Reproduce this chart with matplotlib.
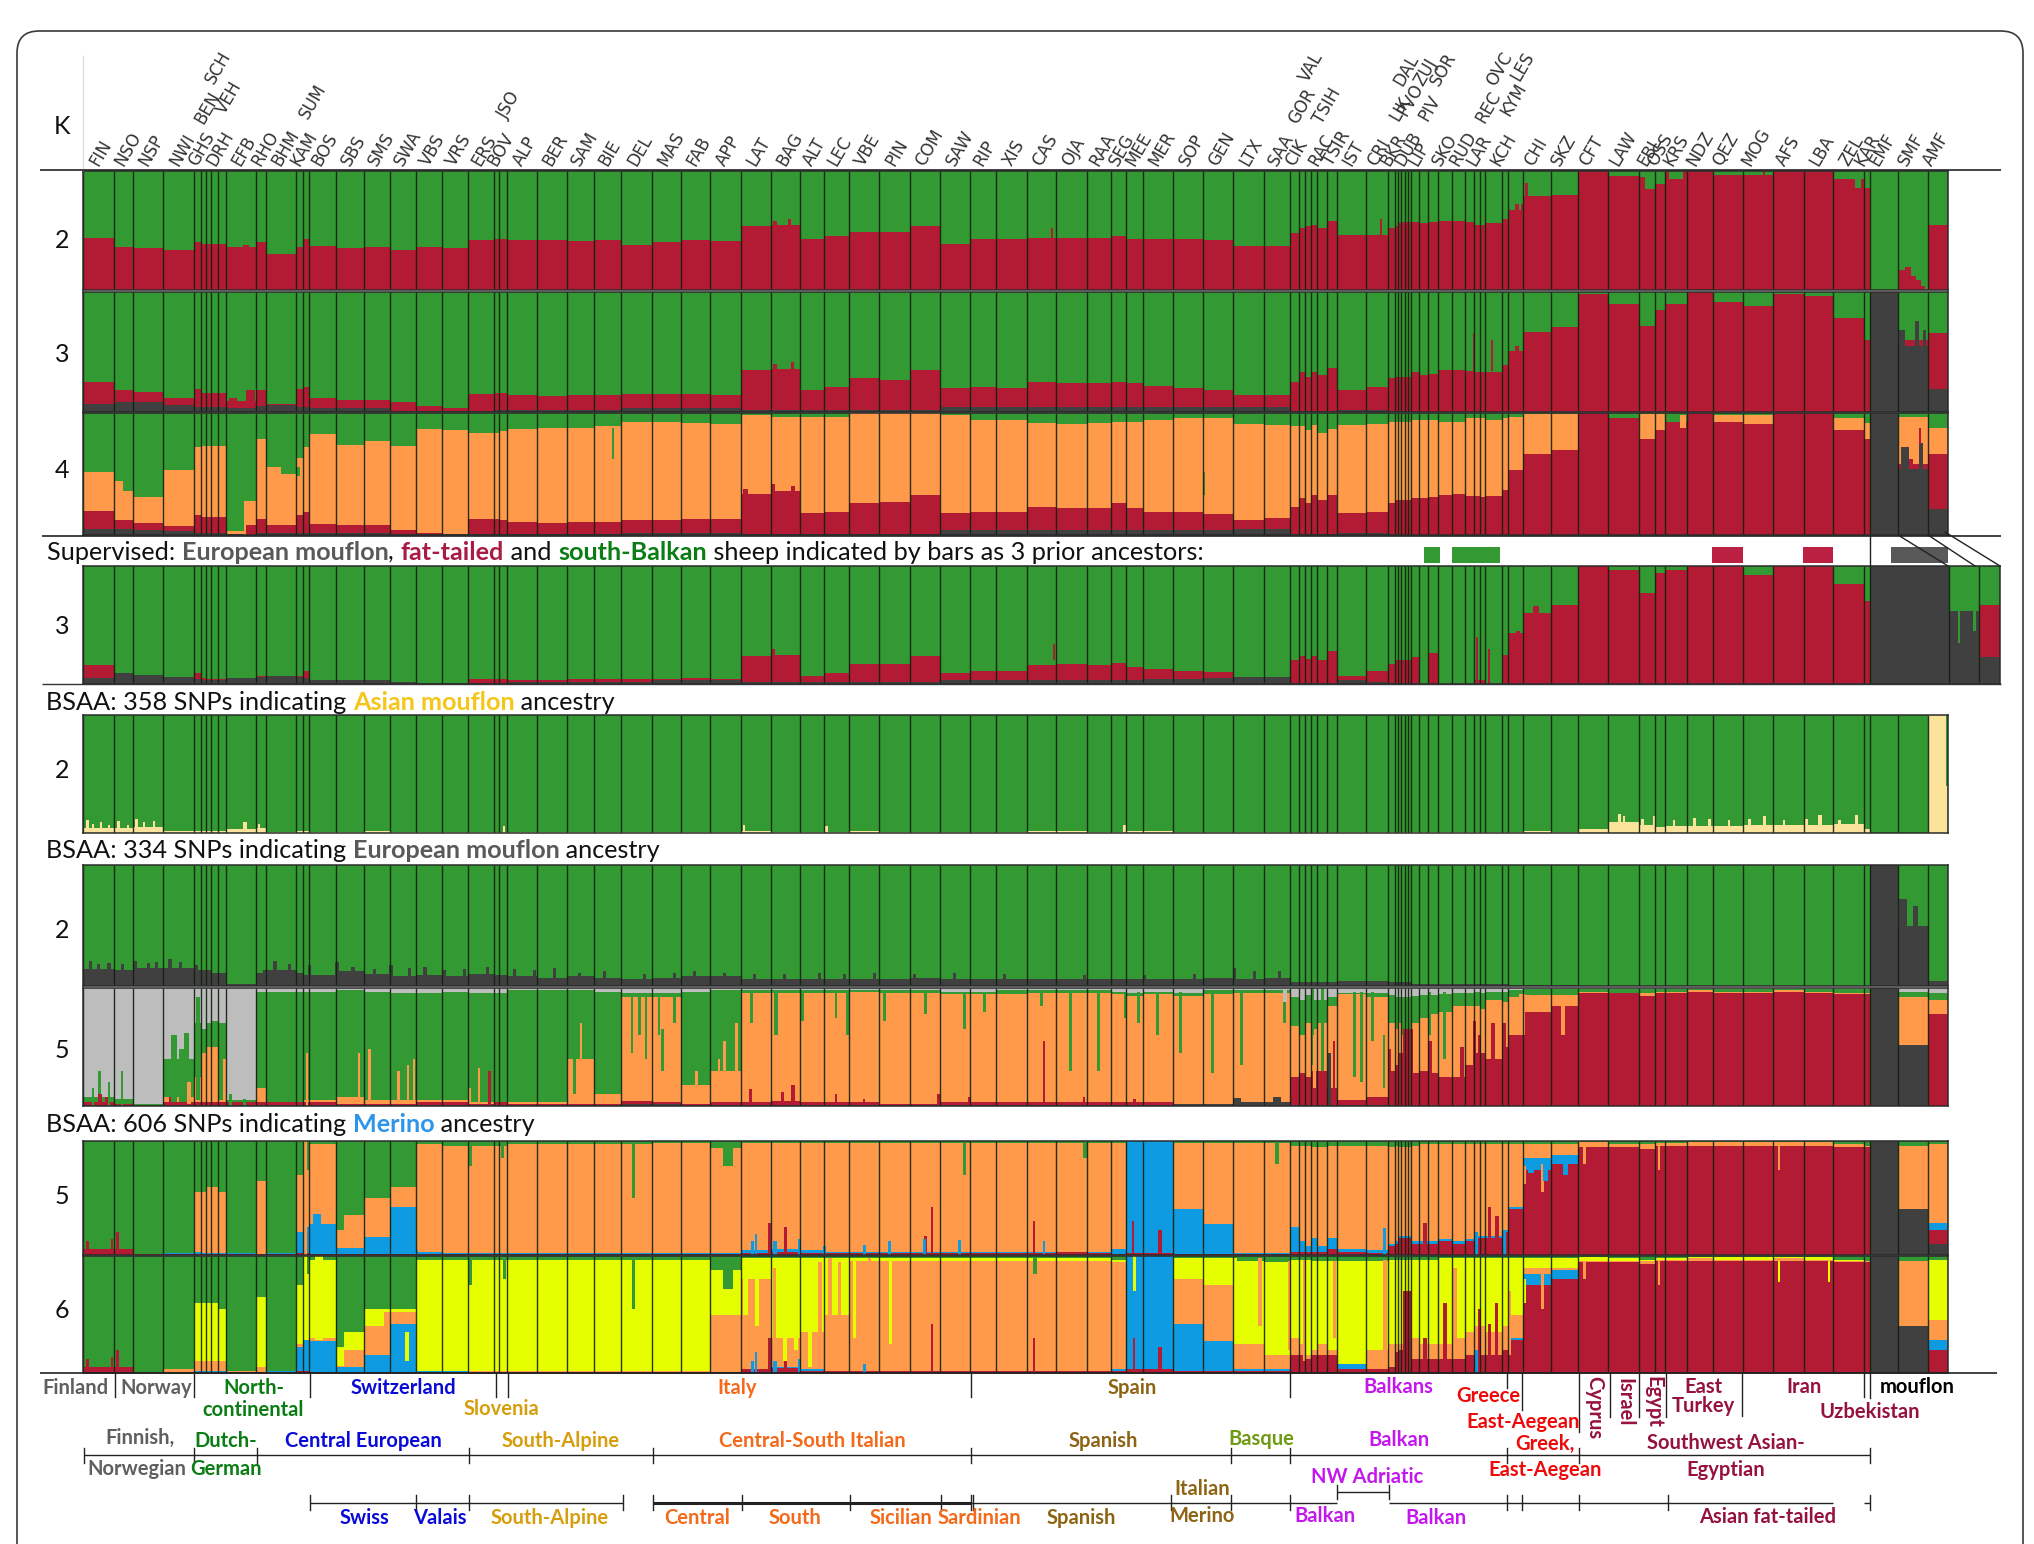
import numpy as np
import matplotlib
matplotlib.use("Agg")
import matplotlib.pyplot as plt
from matplotlib.patches import FancyBboxPatch, Rectangle

plt.rcParams["font.family"] = ["Lato", "DejaVu Sans"]

W, H = 2034, 1544

GREEN = "#339933"
RED = "#b31a34"
ORANGE = "#ff9a4a"
DARK = "#404040"
GREY = "#bdbdbd"
BLUE = "#0e9be2"
YELLOW = "#e6ff00"
PALE = "#fce39c"

breeds = ["FIN", "NSO", "NSP", "NWI", "GHS", "BEN", "DRH", "SCH", "VEH", "EFB",
          "RHO", "BHM", "KAM", "SUM", "BOS", "SBS", "SMS", "SWA", "VBS", "VRS",
          "ERS", "BOV", "JSO", "ALP", "BER", "SAM", "BIE", "DEL", "MAS", "FAB",
          "APP", "LAT", "BAG", "ALT", "LEC", "VBE", "PIN", "COM", "SAW", "RIP",
          "XIS", "CAS", "OJA", "RAA", "SEG", "MEE", "MER", "SOP", "GEN", "LTX",
          "SAA", "CIK", "GOR", "VAL", "RAC", "TSIH", "TSIR", "IST", "CRI", "LIK",
          "BKR", "DUB", "DAL", "PVO", "ZUJ", "LIP", "PIV", "SOR", "SKO", "RUD",
          "LAR", "REC", "OVC", "KCH", "KYM", "LES", "CHI", "SKZ", "CFT", "LAW",
          "EBL", "OSS", "KRS", "NDZ", "QEZ", "MOG", "AFS", "LBA", "ZEL", "KAR",
          "EMF", "SMF", "AMF"]

# individuals per breed
breed_widths = [31, 19, 30, 31, 7, 5, 5, 7, 8, 30,
                10, 30, 7, 6, 27, 28, 26, 26, 26, 26,
                26, 5, 8, 30, 30, 27, 27, 31, 29, 29,
                31, 30, 29, 24, 25, 30, 31, 30, 30, 26,
                31, 29, 31, 24, 15, 17, 30, 30, 30, 31,
                26, 9, 6, 6, 6, 10, 10, 29, 22, 7,
                3, 3, 4, 3, 3, 8, 9, 10, 14, 13,
                9, 6, 5, 17, 6, 15, 28, 27, 30, 31,
                16, 10, 22, 26, 30, 30, 31, 29, 31, 6,
                28, 30, 20]

# the supervised run lists the three mouflon groups at their own widths
sup_widths = breed_widths[:-3] + [79, 30, 21]

# K=2, top of the fat-tailed share
k2_red = [44, 36, 35, 34, 40, 39, 39, 39, 39, 36,
          40, 30, 36, 43, 37, 35, 36, 34, 36, 35,
          42, 43, 43, 42, 42, 41, 42, 38, 40, 42,
          41, 54, 55, 43, 45, 49, 49, 54, 39, 43,
          43, 44, 44, 44, 45, 43, 43, 43, 42, 37,
          37, 48, 52, 54, 55, 52, 58, 46, 46, 52,
          54, 56, 57, 57, 57, 57, 56, 57, 58, 58,
          57, 55, 55, 56, 60, 67, 79, 80, 100, 96,
          85, 89, 93, 100, 97, 97, 100, 100, 93, 86,
          0, 0, 55]
k2_streaks = [(1816, 6, 0, 17, RED), (1822, 6, 0, 19, RED), (1828, 5, 0, 12, RED),
              (1833, 5, 0, 8, RED), (1838, 4, 0, 3, RED),
              (1438, 4, 55, 72, RED), (1442, 3, 55, 90, RED), (968, 2, 40, 52, RED),
              (1297, 2, 45, 60, RED), (1680, 2, 90, 100, RED),
              (690, 4, 50, 58, RED), (705, 3, 50, 60, RED), (150, 6, 30, 34, RED),
              (160, 6, 30, 38, RED), (1425, 5, 60, 64, RED), (1432, 4, 60, 72, RED),
              (1440, 5, 67, 76, RED), (1556, 6, 85, 95, RED), (1582, 4, 89, 100, RED),
              (1600, 4, 93, 100, RED), (1772, 6, 93, 86, GREEN)]

# K=3
k3_dark = [7, 8, 8, 6, 4, 4, 4, 4, 4, 3,
           5, 6, 4, 4, 3, 3, 3, 1, 1, 1,
           1, 2, 2, 2, 2, 2, 2, 3, 3, 3,
           3, 2, 2, 2, 2, 2, 2, 2, 4, 4,
           4, 4, 4, 4, 4, 4, 4, 4, 4, 4,
           4, 1, 1, 1, 1, 1, 1, 2, 2, 1,
           1, 1, 1, 1, 1, 0, 0, 0, 0, 0,
           0, 0, 0, 0, 0, 0, 0, 0, 0, 0,
           0, 0, 0, 0, 0, 0, 0, 0, 0, 0,
           100, 55, 19]
k3_red = [25, 18, 17, 12, 19, 16, 16, 16, 16, 9,
          18, 7, 19, 21, 12, 10, 10, 8, 5, 3,
          15, 16, 16, 14, 13, 14, 14, 15, 15, 15,
          14, 35, 36, 18, 21, 28, 27, 35, 20, 21,
          20, 25, 24, 24, 25, 24, 22, 20, 18, 14,
          14, 25, 33, 29, 33, 31, 37, 18, 21, 28,
          29, 29, 29, 29, 29, 33, 31, 32, 35, 35,
          34, 33, 33, 33, 39, 51, 67, 71, 98, 90,
          72, 85, 90, 100, 92, 88, 98, 97, 78, 60,
          100, 60, 66]
k3_streaks = [(1390, 2, 34, 66, RED), (1408, 2, 34, 60, RED), (1840, 3, 55, 68, DARK),
              (1816, 6, 55, 68, DARK), (1832, 4, 55, 76, DARK), (1568, 2, 78, 92, GREEN),
              (690, 4, 35, 40, RED), (708, 3, 36, 42, RED), (146, 8, 8, 12, RED),
              (163, 9, 9, 18, RED), (1425, 6, 39, 46, RED), (1432, 4, 40, 55, RED)]

# K=4
k4_dark = [5, 5, 4, 3, 2, 2, 2, 2, 2, 1,
           2, 2, 2, 2, 2, 2, 2, 1, 1, 1,
           1, 1, 1, 1, 1, 1, 1, 2, 2, 2,
           2, 1, 1, 1, 1, 1, 1, 1, 4, 4,
           4, 4, 4, 4, 4, 4, 4, 4, 4, 5,
           5, 1, 1, 1, 1, 1, 1, 2, 2, 1,
           0, 0, 0, 0, 0, 0, 0, 0, 0, 0,
           0, 0, 0, 0, 0, 0, 0, 0, 0, 0,
           0, 0, 0, 0, 0, 0, 0, 0, 0, 0,
           100, 54, 21]
k4_red = [20, 12, 10, 7, 16, 15, 15, 15, 15, 1,
          13, 8, 16, 19, 9, 8, 8, 4, 2, 1,
          13, 13, 12, 11, 10, 11, 11, 12, 12, 13,
          13, 34, 36, 18, 19, 26, 27, 33, 18, 19,
          19, 23, 22, 22, 26, 22, 19, 19, 17, 12,
          14, 23, 30, 26, 33, 29, 33, 18, 19, 26,
          29, 29, 29, 29, 29, 30, 30, 31, 33, 34,
          32, 32, 31, 32, 37, 53, 66, 70, 100, 96,
          79, 86, 93, 100, 93, 91, 100, 100, 86, 79,
          100, 58, 66]
k4_orange = [52, 44, 31, 53, 72, 73, 73, 73, 73, 3,
             79, 56, 63, 72, 83, 74, 77, 73, 87, 86,
             84, 84, 85, 87, 88, 88, 89, 93, 93, 92,
             91, 98, 97, 97, 97, 100, 100, 100, 98, 94,
             94, 92, 91, 92, 93, 93, 94, 96, 96, 91,
             90, 89, 89, 86, 90, 84, 87, 90, 91, 93,
             93, 93, 93, 93, 93, 94, 94, 94, 93, 93,
             96, 96, 96, 94, 96, 97, 99, 99, 100, 96,
             99, 99, 93, 100, 98, 98, 100, 100, 96, 92,
             100, 97, 88]
k4_streaks = [(161, 12, 0, 28, ORANGE), (163, 10, 0, 8, RED), (120, 3, 40, 48, ORANGE),
              (1120, 2, 33, 52, GREEN), (529, 2, 62, 88, GREEN),
              (1818, 8, 54, 72, DARK), (1826, 4, 54, 62, RED), (1836, 4, 54, 75, DARK),
              (1836, 2, 75, 88, RED), (1597, 6, 88, 98, ORANGE),
              (660, 5, 34, 38, RED), (688, 4, 36, 42, RED), (708, 4, 36, 40, RED),
              (1425, 6, 37, 44, RED), (1432, 4, 40, 52, RED), (213, 4, 56, 48, GREEN),
              (198, 15, 56, 50, GREEN), (40, 10, 44, 36, GREEN)]

# supervised run, K=3
sup_dark = [5, 9, 8, 6, 4, 3, 3, 3, 3, 5,
            6, 7, 6, 5, 3, 3, 3, 2, 1, 1,
            1, 1, 1, 2, 2, 2, 2, 2, 3, 3,
            3, 2, 2, 2, 2, 2, 2, 2, 3, 3,
            3, 3, 3, 3, 3, 3, 4, 4, 5, 6,
            6, 1, 1, 1, 1, 1, 1, 3, 2, 1,
            1, 1, 1, 1, 1, 0, 0, 0, 0, 0,
            0, 0, 0, 0, 0, 0, 0, 0, 0, 0,
            0, 0, 0, 0, 0, 0, 0, 0, 0, 0,
            100, 62, 23]
sup_red = [16, 9, 8, 6, 9, 5, 4, 4, 4, 5,
           7, 7, 7, 11, 3, 3, 3, 2, 1, 1,
           4, 4, 4, 3, 3, 4, 4, 4, 4, 5,
           4, 24, 25, 7, 9, 17, 17, 24, 9, 11,
           11, 16, 17, 16, 18, 14, 13, 11, 10, 6,
           6, 20, 24, 21, 24, 20, 28, 7, 11, 17,
           20, 20, 20, 20, 20, 23, 0, 26, 0, 0,
           0, 3, 3, 0, 25, 43, 60, 67, 100, 97,
           77, 94, 97, 100, 100, 92, 100, 100, 85, 70,
           100, 62, 67]
sup_streaks = [(1875, 2, 35, 100, GREEN), (1890, 3, 45, 100, GREEN), (1393, 2, 0, 40, RED),
               (1405, 2, 0, 30, RED), (970, 2, 20, 34, RED), (1425, 6, 25, 32, RED),
               (1433, 4, 32, 45, RED), (1450, 6, 60, 66, RED), (688, 4, 24, 30, RED)]

# BSAA on the Asian mouflon SNPs, K=2
asian_pale = [4, 4, 5, 2, 2, 2, 2, 2, 2, 3,
              4, 1, 2, 2, 1, 1, 2, 1, 1, 1,
              1, 1, 1, 1, 1, 1, 1, 1, 1, 1,
              1, 2, 1, 1, 1, 2, 1, 1, 1, 1,
              1, 2, 2, 1, 1, 2, 2, 1, 1, 1,
              1, 1, 1, 1, 1, 1, 1, 1, 1, 1,
              1, 1, 1, 1, 1, 1, 1, 1, 1, 1,
              1, 1, 1, 1, 1, 1, 2, 1, 3, 9,
              7, 5, 6, 6, 6, 7, 7, 7, 8, 3,
              0, 0, 100]
asian_streaks = [(3, 3, 0, 11, PALE), (9, 2, 0, 8, PALE), (17, 2, 0, 9, PALE), (25, 2, 0, 7, PALE),
                 (34, 3, 0, 10, PALE), (44, 2, 0, 7, PALE), (52, 3, 0, 12, PALE), (60, 2, 0, 9, PALE),
                 (70, 2, 0, 10, PALE), (160, 4, 0, 9, PALE), (175, 2, 0, 8, PALE), (420, 2, 0, 6, PALE),
                 (660, 2, 0, 7, PALE), (742, 3, 0, 6, PALE), (1040, 3, 0, 7, PALE), (1535, 3, 0, 16, PALE),
                 (1570, 3, 0, 14, PALE), (1610, 3, 0, 13, PALE), (1680, 3, 0, 14, PALE), (1735, 4, 0, 15, PALE),
                 (1772, 3, 0, 15, PALE), (1540, 2, 0, 14, PALE), (1558, 3, 0, 12, PALE), (1590, 2, 0, 11, PALE),
                 (1625, 3, 0, 12, PALE), (1645, 2, 0, 11, PALE), (1665, 3, 0, 12, PALE), (1700, 2, 0, 11, PALE),
                 (1722, 3, 0, 12, PALE), (1755, 3, 0, 11, PALE), (1785, 0, 0, 0, PALE),
                 (1860, 5, 0, 0, PALE), (1863, 2, 40, 100, GREEN)]

# BSAA on the European mouflon SNPs, K=2
euro_dark = [14, 13, 15, 15, 13, 13, 13, 11, 11, 2,
             11, 13, 11, 9, 9, 12, 10, 8, 9, 8,
             10, 9, 9, 8, 7, 8, 7, 6, 7, 8,
             8, 6, 6, 6, 6, 6, 6, 7, 6, 6,
             6, 6, 6, 6, 6, 6, 6, 6, 7, 6,
             7, 3, 3, 3, 3, 3, 3, 4, 4, 3,
             3, 3, 3, 3, 3, 2, 2, 2, 2, 2,
             2, 2, 2, 2, 2, 1, 1, 1, 0, 0,
             0, 0, 0, 0, 0, 0, 0, 0, 0, 0,
             100, 50, 4]
euro_streaks = [(6, 3, 0, 21, DARK), (24, 4, 0, 19, DARK), (50, 4, 0, 21, DARK), (85, 4, 0, 22, DARK),
                (96, 3, 0, 20, DARK), (190, 4, 0, 21, DARK), (252, 4, 0, 20, DARK), (306, 4, 0, 17, DARK),
                (340, 4, 0, 16, DARK), (403, 3, 0, 16, DARK), (470, 3, 0, 15, DARK), (610, 3, 0, 12, DARK),
                (735, 3, 0, 11, DARK), (790, 3, 0, 11, DARK), (1150, 3, 0, 15, DARK),
                (14, 3, 0, 18, DARK), (38, 3, 0, 18, DARK), (64, 3, 0, 19, DARK), (72, 3, 0, 20, DARK),
                (112, 3, 0, 17, DARK), (180, 4, 0, 13, DARK), (205, 3, 0, 18, DARK), (225, 3, 0, 17, DARK),
                (268, 4, 0, 16, DARK), (290, 3, 0, 14, DARK), (325, 3, 0, 15, DARK), (360, 3, 0, 13, DARK),
                (380, 3, 0, 14, DARK), (430, 3, 0, 14, DARK), (450, 3, 0, 13, DARK), (495, 3, 0, 11, DARK),
                (520, 3, 0, 12, DARK), (560, 3, 0, 10, DARK), (590, 3, 0, 11, DARK), (640, 3, 0, 11, DARK),
                (670, 3, 0, 10, DARK), (700, 3, 0, 10, DARK), (760, 3, 0, 10, DARK), (830, 3, 0, 10, DARK),
                (870, 3, 0, 11, DARK), (920, 3, 0, 10, DARK), (1000, 3, 0, 9, DARK), (1060, 3, 0, 9, DARK),
                (1110, 3, 0, 10, DARK), (1170, 3, 0, 12, DARK), (1195, 3, 0, 12, DARK),
                (1816, 8, 50, 72, DARK), (1830, 5, 50, 66, DARK)]

# BSAA on the European mouflon SNPs, K=5
k5b_dark = [1, 1, 1, 1, 1, 1, 1, 1, 1, 1,
            1, 1, 1, 1, 1, 1, 1, 1, 1, 1,
            1, 1, 1, 1, 1, 1, 1, 2, 2, 1,
            1, 1, 1, 1, 1, 1, 1, 1, 1, 1,
            1, 1, 1, 1, 1, 1, 1, 2, 2, 3,
            3, 1, 1, 1, 1, 1, 1, 1, 1, 1,
            0, 0, 0, 0, 0, 0, 0, 0, 0, 0,
            0, 0, 0, 0, 0, 0, 0, 0, 0, 0,
            0, 0, 0, 0, 0, 0, 0, 0, 0, 0,
            100, 52, 0]
k5b_red = [3, 2, 1, 3, 3, 3, 3, 3, 3, 3,
           3, 3, 3, 3, 3, 2, 2, 2, 3, 3,
           2, 3, 3, 2, 2, 2, 2, 4, 3, 2,
           3, 3, 4, 3, 3, 3, 2, 2, 3, 3,
           3, 3, 3, 3, 3, 3, 3, 2, 2, 2,
           3, 25, 28, 25, 30, 30, 15, 5, 8, 30,
           35, 45, 45, 45, 45, 28, 30, 28, 25, 25,
           35, 45, 45, 40, 50, 60, 80, 85, 96, 96,
           93, 96, 96, 97, 96, 96, 97, 96, 95, 95,
           0, 0, 78]
k5b_orange = [3, 2, 1, 8, 25, 45, 50, 50, 40, 3,
              15, 3, 3, 5, 5, 8, 5, 5, 5, 5,
              3, 3, 3, 3, 3, 40, 10, 92, 92, 18,
              30, 96, 96, 96, 96, 97, 96, 96, 95, 95,
              95, 96, 96, 96, 95, 93, 95, 93, 95, 96,
              96, 68, 60, 70, 65, 70, 85, 95, 92, 70,
              65, 70, 60, 60, 60, 70, 75, 78, 80, 85,
              85, 85, 82, 90, 88, 92, 94, 94, 97, 96,
              96, 97, 97, 98, 97, 97, 98, 97, 96, 96,
              0, 92, 90]
k5b_green = [8, 6, 2, 40, 70, 65, 70, 72, 70, 5,
             97, 97, 97, 97, 97, 98, 97, 96, 96, 97,
             96, 96, 96, 98, 98, 98, 97, 96, 96, 97,
             98, 98, 98, 98, 98, 98, 98, 98, 97, 97,
             98, 98, 98, 98, 97, 96, 97, 96, 98, 98,
             98, 92, 90, 94, 90, 90, 92, 96, 96, 94,
             92, 92, 92, 92, 92, 93, 94, 94, 95, 96,
             96, 97, 96, 97, 97, 98, 99, 99, 99, 99,
             99, 99, 99, 99, 99, 99, 99, 99, 99, 99,
             100, 97, 96]
k5b_streaks = [(667, 3, 70, 97, GREEN), (691, 4, 60, 97, GREEN), (718, 3, 72, 97, GREEN),
               (752, 2, 75, 97, GREEN), (763, 3, 60, 97, GREEN), (800, 3, 72, 97, GREEN),
               (841, 3, 78, 97, GREEN), (880, 3, 65, 97, GREEN), (900, 3, 80, 97, GREEN),
               (957, 3, 85, 97, GREEN), (986, 3, 30, 97, GREEN), (1014, 3, 30, 97, GREEN),
               (1041, 2, 75, 97, GREEN), (1054, 3, 70, 97, GREEN), (1073, 3, 60, 97, GREEN),
               (1096, 3, 45, 97, GREEN), (1128, 3, 28, 97, GREEN), (1157, 3, 35, 97, GREEN),
               (1200, 3, 70, 97, GREEN), (1228, 3, 35, 100, GREEN), (1238, 3, 30, 100, GREEN),
               (1270, 3, 25, 97, GREEN), (1277, 3, 20, 97, GREEN), (1288, 3, 55, 97, GREEN),
               (1345, 3, 60, 97, GREEN), (1360, 3, 40, 97, GREEN), (1436, 6, 60, 95, ORANGE),
               (1478, 4, 60, 85, ORANGE), (1200, 4, 88, 100, GREY),
               (1320, 10, 0, 65, RED), (1408, 4, 10, 70, RED), (1390, 3, 10, 72, RED),
               (1245, 3, 0, 45, DARK), (1250, 2, 0, 55, RED),
               (86, 3, 0, 8, RED), (125, 6, 5, 40, ORANGE), (136, 4, 5, 50, GREEN),
               (223, 2, 0, 45, ORANGE), (285, 3, 3, 48, ORANGE), (405, 3, 0, 30, RED),
               (330, 2, 3, 40, ORANGE), (395, 2, 3, 32, ORANGE), (490, 3, 10, 60, GREEN),
               (497, 2, 40, 70, ORANGE), (578, 3, 30, 65, GREEN), (666, 3, 0, 14, RED),
               (698, 3, 0, 12, RED), (708, 4, 0, 18, RED), (752, 2, 0, 10, RED),
               (885, 3, 0, 8, RED), (960, 2, 0, 55, RED),
               (15, 3, 0, 30, GREEN), (25, 2, 0, 20, GREEN), (9, 2, 0, 15, GREEN), (38, 2, 0, 30, GREEN),
               (15, 4, 0, 10, RED), (22, 3, 0, 8, RED),
               (88, 6, 3, 60, GREEN), (96, 5, 3, 48, GREEN), (101, 5, 3, 62, GREEN), (104, 4, 2, 20, ORANGE),
               (113, 4, 5, 92, GREEN), (146, 3, 0, 10, GREEN), (160, 3, 0, 6, GREEN),
               (275, 2, 3, 45, ORANGE), (314, 3, 3, 30, ORANGE), (324, 2, 3, 35, ORANGE), (386, 2, 3, 15, ORANGE),
               (548, 2, 45, 92, GREEN), (555, 3, 60, 92, GREEN), (562, 2, 40, 92, GREEN),
               (575, 2, 60, 92, GREEN), (590, 3, 70, 92, GREEN), (635, 2, 3, 40, ORANGE),
               (640, 3, 5, 55, ORANGE), (652, 3, 5, 70, ORANGE), (612, 3, 5, 30, ORANGE),
               (854, 3, 0, 10, RED), (780, 2, 0, 6, RED), (1000, 2, 0, 8, RED), (1050, 3, 0, 6, RED),
               (1150, 8, 0, 7, DARK), (1190, 8, 0, 8, DARK),
               (1345, 4, 20, 55, RED), (1377, 4, 20, 50, RED), (1395, 3, 20, 60, RED), (1419, 4, 30, 70, RED),
               (1230, 3, 15, 60, ORANGE), (1300, 2, 15, 60, GREEN), (1305, 3, 5, 48, RED)]

# BSAA on the Merino SNPs, K=5
m5_dark = [0, 0, 0, 0, 0, 0, 0, 0, 0, 0,
           0, 0, 0, 0, 0, 0, 0, 0, 0, 0,
           0, 0, 0, 0, 0, 0, 0, 0, 0, 0,
           0, 0, 0, 0, 0, 0, 0, 0, 0, 0,
           0, 0, 0, 0, 0, 0, 0, 0, 0, 0,
           0, 0, 0, 0, 0, 0, 0, 0, 0, 0,
           0, 0, 0, 0, 0, 0, 0, 0, 0, 0,
           0, 0, 0, 0, 0, 0, 0, 0, 0, 0,
           0, 0, 0, 0, 0, 0, 0, 0, 0, 0,
           100, 40, 10]
m5_red = [5, 5, 1, 1, 1, 1, 1, 1, 1, 1,
          1, 1, 2, 2, 1, 1, 1, 1, 1, 1,
          1, 1, 1, 1, 1, 1, 1, 1, 1, 1,
          1, 2, 3, 2, 2, 2, 2, 2, 2, 2,
          2, 2, 3, 2, 1, 2, 2, 1, 1, 1,
          1, 3, 3, 3, 3, 3, 5, 3, 2, 8,
          10, 15, 15, 15, 15, 10, 10, 10, 12, 10,
          12, 15, 15, 15, 20, 40, 75, 80, 95, 95,
          93, 96, 96, 96, 96, 96, 96, 96, 95, 95,
          0, 0, 22]
m5_blue = [5, 5, 1, 2, 3, 2, 2, 2, 2, 2,
           1, 2, 20, 25, 27, 6, 16, 42, 3, 2,
           2, 2, 2, 2, 2, 2, 2, 2, 2, 2,
           2, 4, 5, 4, 3, 3, 3, 3, 3, 3,
           3, 3, 3, 3, 5, 100, 100, 40, 27, 2,
           2, 25, 12, 8, 15, 8, 15, 5, 4, 10,
           12, 17, 17, 17, 17, 12, 12, 12, 14, 12,
           14, 17, 17, 17, 22, 42, 85, 88, 95, 95,
           93, 96, 96, 96, 96, 96, 96, 96, 95, 95,
           0, 0, 28]
m5_orange = [5, 5, 1, 2, 55, 55, 60, 60, 55, 2,
             65, 2, 70, 75, 97, 35, 50, 60, 97, 96,
             96, 96, 96, 97, 97, 97, 97, 97, 98, 98,
             94, 98, 98, 98, 98, 98, 98, 98, 98, 98,
             98, 98, 98, 98, 98, 100, 100, 98, 98, 98,
             98, 96, 96, 96, 95, 95, 96, 96, 96, 95,
             96, 95, 95, 95, 95, 96, 97, 97, 97, 97,
             97, 97, 97, 97, 97, 97, 97, 97, 99, 97,
             97, 98, 98, 99, 99, 99, 99, 99, 97, 96,
             0, 96, 97]
m5_streaks = [(386, 3, 78, 100, GREEN), (418, 3, 85, 100, GREEN), (549, 3, 50, 100, GREEN),
              (640, 10, 78, 100, GREEN), (880, 3, 70, 100, GREEN), (1000, 4, 85, 100, GREEN),
              (1192, 4, 80, 100, GREEN), (1440, 3, 62, 78, ORANGE), (1458, 3, 55, 80, ORANGE),
              (1500, 3, 80, 96, ORANGE), (1575, 2, 75, 96, ORANGE), (1695, 2, 75, 96, ORANGE),
              (685, 3, 0, 28, RED), (701, 3, 0, 25, RED), (672, 2, 0, 18, BLUE),
              (848, 2, 0, 42, RED), (841, 3, 0, 17, RED), (950, 2, 0, 30, RED),
              (960, 2, 0, 12, BLUE), (1049, 2, 0, 30, RED), (1075, 4, 0, 22, RED),
              (1300, 3, 0, 24, BLUE), (1340, 4, 0, 28, RED), (1412, 4, 0, 34, RED),
              (1405, 3, 0, 42, RED), (1392, 3, 0, 20, BLUE), (1420, 3, 0, 20, BLUE),
              (668, 3, 0, 12, BLUE), (690, 4, 0, 12, BLUE), (715, 3, 0, 14, BLUE), (740, 3, 0, 8, BLUE),
              (780, 3, 0, 9, BLUE), (805, 3, 0, 12, BLUE), (840, 3, 0, 14, BLUE), (875, 3, 0, 13, BLUE),
              (3, 3, 0, 12, RED), (28, 2, 0, 14, RED), (33, 3, 0, 20, RED), (253, 8, 22, 100, GREEN),
              (253, 8, 6, 22, ORANGE), (281, 10, 60, 100, GREEN), (301, 6, 40, 50, ORANGE),
              (220, 4, 0, 100, ORANGE), (230, 8, 26, 36, BLUE), (332, 3, 0, 4, BLUE),
              (1480, 5, 70, 85, BLUE), (1445, 6, 72, 82, BLUE), (1460, 5, 65, 80, BLUE)]

# BSAA on the Merino SNPs, K=6
m6_dark = [0, 0, 0, 0, 0, 0, 0, 0, 0, 0,
           0, 0, 0, 0, 0, 0, 0, 0, 0, 0,
           0, 0, 0, 0, 0, 0, 0, 0, 0, 0,
           0, 0, 0, 0, 0, 0, 0, 0, 0, 0,
           0, 0, 0, 0, 0, 0, 0, 0, 0, 0,
           0, 0, 0, 0, 0, 0, 0, 0, 0, 0,
           0, 0, 0, 0, 0, 0, 0, 0, 0, 0,
           0, 0, 0, 0, 0, 0, 0, 0, 0, 0,
           0, 0, 0, 0, 0, 0, 0, 0, 0, 0,
           100, 40, 0]
m6_red = [5, 5, 1, 1, 1, 1, 1, 1, 1, 1,
          1, 1, 2, 2, 1, 1, 1, 1, 1, 1,
          1, 1, 1, 1, 1, 1, 1, 1, 1, 1,
          1, 3, 4, 2, 2, 2, 2, 2, 2, 2,
          2, 2, 2, 2, 2, 3, 3, 2, 2, 2,
          2, 15, 15, 12, 15, 15, 15, 3, 3, 5,
          18, 20, 20, 20, 20, 12, 12, 12, 12, 12,
          15, 15, 15, 15, 20, 28, 75, 80, 95, 95,
          93, 96, 96, 96, 96, 96, 96, 96, 95, 95,
          0, 0, 20]
m6_blue = [1, 1, 0, 1, 2, 2, 2, 2, 2, 1,
           1, 2, 22, 28, 27, 5, 15, 42, 2, 2,
           1, 1, 1, 1, 1, 1, 1, 1, 1, 1,
           1, 3, 5, 3, 2, 2, 2, 2, 2, 2,
           2, 2, 2, 2, 3, 100, 100, 42, 27, 3,
           3, 12, 10, 10, 10, 10, 12, 8, 3, 5,
           6, 8, 8, 8, 8, 6, 6, 6, 8, 8,
           8, 8, 8, 8, 10, 30, 85, 88, 95, 95,
           93, 96, 96, 96, 96, 96, 96, 96, 95, 95,
           0, 0, 28]
m6_orange = [5, 5, 1, 3, 10, 10, 10, 10, 10, 2,
             5, 2, 25, 25, 30, 20, 40, 52, 2, 2,
             2, 2, 2, 2, 2, 2, 2, 2, 2, 2,
             50, 80, 30, 35, 50, 96, 96, 96, 96, 96,
             96, 96, 96, 96, 95, 100, 100, 80, 75, 25,
             15, 30, 25, 15, 20, 25, 20, 5, 20, 25,
             25, 25, 25, 25, 25, 30, 25, 25, 25, 30,
             35, 40, 40, 35, 40, 50, 90, 90, 96, 96,
             96, 97, 97, 98, 97, 97, 98, 97, 96, 96,
             0, 96, 45]
m6_yellow = [5, 5, 1, 3, 60, 60, 60, 60, 55, 2,
             65, 2, 75, 85, 97, 35, 55, 55, 97, 97,
             97, 97, 97, 97, 97, 97, 97, 97, 97, 97,
             88, 98, 98, 98, 98, 98, 98, 98, 98, 98,
             98, 98, 98, 98, 97, 100, 100, 98, 98, 96,
             95, 97, 97, 97, 96, 96, 96, 96, 96, 97,
             97, 97, 97, 97, 97, 97, 97, 97, 98, 98,
             98, 98, 98, 98, 98, 98, 98, 98, 99, 98,
             97, 98, 98, 99, 99, 99, 99, 99, 97, 96,
             0, 96, 97]
m6_streaks = [(386, 3, 75, 100, GREEN), (420, 3, 80, 100, GREEN), (549, 3, 55, 100, GREEN),
              (640, 10, 72, 100, GREEN), (950, 4, 85, 100, GREEN), (1050, 3, 70, 100, YELLOW),
              (1150, 4, 30, 98, YELLOW), (1175, 4, 40, 98, ORANGE), (1205, 3, 20, 96, ORANGE),
              (1250, 3, 30, 96, ORANGE), (690, 3, 5, 90, ORANGE), (711, 4, 20, 98, YELLOW),
              (735, 4, 10, 95, ORANGE), (755, 3, 10, 95, ORANGE), (770, 3, 30, 98, YELLOW),
              (785, 3, 15, 98, ORANGE), (806, 3, 25, 98, YELLOW), (1440, 3, 60, 80, YELLOW),
              (1458, 3, 55, 85, ORANGE), (1500, 3, 80, 96, ORANGE), (1575, 2, 75, 96, ORANGE),
              (1695, 2, 78, 96, YELLOW), (1745, 2, 78, 96, YELLOW),
              (685, 3, 0, 30, RED), (701, 3, 0, 25, RED), (672, 2, 0, 18, BLUE),
              (848, 2, 0, 42, RED), (950, 2, 0, 30, RED), (1050, 2, 0, 30, RED),
              (1075, 4, 0, 22, RED), (1340, 4, 0, 30, RED), (1405, 3, 0, 42, RED), (1392, 3, 0, 20, BLUE),
              (668, 3, 0, 10, BLUE), (690, 4, 0, 10, BLUE), (715, 3, 0, 12, BLUE), (780, 3, 0, 8, BLUE),
              (3, 3, 0, 12, RED), (28, 2, 0, 14, RED), (33, 3, 0, 20, RED), (253, 8, 22, 100, GREEN),
              (253, 8, 6, 22, YELLOW), (281, 10, 60, 100, GREEN), (301, 6, 40, 52, ORANGE),
              (220, 4, 30, 100, YELLOW), (232, 8, 28, 100, YELLOW), (322, 4, 10, 35, YELLOW),
              (660, 5, 50, 88, YELLOW), (672, 4, 40, 98, YELLOW), (700, 4, 10, 98, YELLOW),
              (725, 4, 5, 95, YELLOW), (745, 4, 10, 98, ORANGE), (1220, 3, 10, 97, ORANGE),
              (1300, 4, 15, 97, ORANGE), (1320, 8, 0, 70, RED), (1360, 4, 12, 60, RED), (1395, 3, 15, 55, RED),
              (1412, 3, 0, 60, RED), (1425, 3, 15, 70, ORANGE), (1370, 4, 30, 90, ORANGE)]

prior_green = [(1424, 1440), (1452, 1500)]
prior_red = [(1712, 1743), (1803, 1833)]
prior_grey = [(1891, 1948)]

fig = plt.figure(figsize=(W / 100, H / 100), dpi=100, facecolor="white")
renderer = fig.canvas.get_renderer()

# full-page axes in pixel units, for the text and the brackets
page = fig.add_axes([0, 0, 1, 1], zorder=5)
page.set_xlim(0, W)
page.set_ylim(H, 0)
page.axis("off")
page.patch.set_alpha(0)


def draw_panel(y0, y1, widths, layers, streaks=(), spine="#2b2b2b"):
    x0 = 82.6
    total = sum(widths)
    ax = fig.add_axes([x0 / W, 1 - y1 / H, total / W, (y1 - y0) / H], zorder=1)
    ax.set_xlim(0, total)
    ax.set_ylim(0, 100)
    left = np.cumsum([0] + list(widths[:-1]))
    # paint from the top component down, so each layer only needs its upper edge
    for tops, colour in layers:
        ax.bar(left, tops, widths, align="edge", color=colour, linewidth=0)
    for x, w, lo, hi, colour in streaks:
        ax.bar(x, hi - lo, w, bottom=lo, align="edge", color=colour, linewidth=0)
    ax.vlines(np.append(left, total), 0, 100, color="#10200f", linewidth=1.0, alpha=0.9)
    ax.set_xticks([])
    ax.set_yticks([])
    for s in ax.spines.values():
        s.set_color(spine)
        s.set_linewidth(1.1)
    return ax


full = [100] * len(breeds)
draw_panel(171, 290, breed_widths, [(full, GREEN), (k2_red, RED)], k2_streaks)
draw_panel(292, 412, breed_widths, [(full, GREEN), (k3_red, RED), (k3_dark, DARK)], k3_streaks)
draw_panel(413, 535, breed_widths, [(full, GREEN), (k4_orange, ORANGE), (k4_red, RED), (k4_dark, DARK)], k4_streaks)
draw_panel(566, 684, sup_widths, [(full, GREEN), (sup_red, RED), (sup_dark, DARK)], sup_streaks)
draw_panel(715, 833, breed_widths, [(full, GREEN), (asian_pale, PALE)], asian_streaks)
draw_panel(865, 986, breed_widths, [(full, GREEN), (euro_dark, DARK)], euro_streaks)
draw_panel(988, 1106, breed_widths,
           [(full, GREY), (k5b_green, GREEN), (k5b_orange, ORANGE), (k5b_red, RED), (k5b_dark, DARK)], k5b_streaks)
draw_panel(1141, 1255, breed_widths,
           [(full, GREEN), (m5_orange, ORANGE), (m5_blue, BLUE), (m5_red, RED), (m5_dark, DARK)], m5_streaks)
draw_panel(1256, 1373, breed_widths,
           [(full, GREEN), (m6_yellow, YELLOW), (m6_orange, ORANGE), (m6_blue, BLUE), (m6_red, RED), (m6_dark, DARK)],
           m6_streaks)

# outer rounded frame, open past the bottom of the page
page.add_patch(FancyBboxPatch((17, 31), 2006, 1600, boxstyle="round,pad=0,rounding_size=22",
                              fill=False, edgecolor="#3a3a3a", linewidth=1.2, clip_on=True))
page.plot([83, 83], [56, 170], color="#dddddd", linewidth=1)

# breed codes over the top panel; crowded codes sit higher up
label_dx = {"DRH": 7, "LIK": 7, "BKR": -7, "DUB": 4, "ZUJ": 14, "SUM": 2, "JSO": 4, "GOR": -4,
            "RAC": 4, "REC": 8, "OVC": 13, "KCH": 6, "KYM": 5, "LES": 4, "LAR": 6, "PIV": 4,
            "SOR": 6, "SKO": -4, "CHI": -3, "SKZ": -4, "CFT": -4, "LAW": -5, "OSS": -3, "KRS": -3,
            "NDZ": -4, "QEZ": -6, "MOG": -7, "AFS": -3, "KAR": -3, "EMF": -5, "SMF": -6, "AMF": -6,
            "VEH": 3, "LIP": 3, "BOS": -2}
label_lift = {"BEN": 42, "SCH": 82, "VEH": 52, "SUM": 47, "JSO": 47, "GOR": 42, "VAL": 84, "TSIH": 42,
              "LIK": 45, "DAL": 80, "PVO": 50, "ZUJ": 80, "PIV": 45, "SOR": 80, "REC": 43, "OVC": 80,
              "KYM": 50, "LES": 85}
edges = np.cumsum([0] + breed_widths) + 82.6
for name, a, b in zip(breeds, edges[:-1], edges[1:]):
    page.text((a + b) / 2 + label_dx.get(name, 0), 167 - label_lift.get(name, 0), name,
              rotation=60, rotation_mode="anchor", ha="left", va="baseline",
              fontsize=12, color="#333333", family="DejaVu Sans")

for label, y in [("K", 127), ("2", 241), ("3", 355), ("4", 470), ("3", 626), ("2", 771),
                 ("2", 931), ("5", 1051), ("5", 1197), ("6", 1311)]:
    page.text(62, y, label, ha="center", va="center", fontsize=18, color="#111111")

page.hlines(170, 40, 2001, color="#222222", linewidth=1.2)
page.hlines(536, 42, 2001, color="#222222", linewidth=1.2)
page.hlines(684, 42, 2001, color="#333333", linewidth=1.0)
page.hlines(1373, 40, 1997, color="#222222", linewidth=1.2)


def rich_line(x, y, parts):
    for s, colour, weight in parts:
        t = page.text(x, y, s, color=colour, fontweight=weight, fontsize=18.2, ha="left", va="center")
        x += t.get_window_extent(renderer).width


INK = "#111111"
MOUFLON = "#595959"
FAT = "#a81c44"
BALKAN_G = "#0a7d14"
rich_line(47, 552, [("Supervised: ", INK, "normal"), ("European mouflon", MOUFLON, "bold"), (", ", INK, "normal"),
                    ("fat-tailed", FAT, "bold"), (" and ", INK, "normal"), ("south-Balkan", BALKAN_G, "bold"),
                    (" sheep indicated by bars as 3 prior ancestors:", INK, "normal")])
rich_line(46, 703, [("BSAA: 358 SNPs indicating ", INK, "normal"), ("Asian mouflon", "#f5c518", "bold"),
                    (" ancestry", INK, "normal")])
rich_line(46, 851, [("BSAA: 334 SNPs indicating ", INK, "normal"), ("European mouflon", MOUFLON, "bold"),
                    (" ancestry", INK, "normal")])
rich_line(46, 1124, [("BSAA: 606 SNPs indicating ", INK, "normal"), ("Merino", "#2e95ea", "bold"),
                     (" ancestry", INK, "normal")])

# prior-ancestor bars above the supervised panel, with the leader lines to the mouflon block
for (a, b), colour in [(p, GREEN) for p in prior_green] + [(p, "#bb2042") for p in prior_red] + [(p, "#595959") for p in prior_grey]:
    page.add_patch(Rectangle((a, 547), b - a, 16, color=colour, linewidth=0))
page.plot([1870, 1870], [536, 566], color="#222222", linewidth=1)
page.plot([1898, 1948], [535, 566], color="#222222", linewidth=1)
page.plot([1928, 1975], [535, 566], color="#222222", linewidth=1)
page.plot([1945, 2000], [532, 566], color="#222222", linewidth=1)

LINE = "#222222"
GRAY_T = "#5f5f5f"
GREEN_T = "#0a7d14"
BLUE_T = "#0a0ad8"
GOLD_T = "#d69e0c"
ORANGE_T = "#f4691a"
BROWN_T = "#8c6414"
PURPLE_T = "#c417ee"
RED_T = "#ee0a0a"
MAROON_T = "#96123e"
OLIVE_T = "#6f9a12"
geo_labels = [("Finland", 75, 1388, GRAY_T), ("Norway", 156, 1388, GRAY_T), ("North-", 254, 1388, GREEN_T),
              ("continental", 253, 1410, GREEN_T), ("Switzerland", 403, 1388, BLUE_T),
              ("Slovenia", 501, 1409, GOLD_T), ("Italy", 737, 1388, ORANGE_T), ("Spain", 1132, 1388, BROWN_T),
              ("Balkans", 1398, 1387, PURPLE_T), ("Greece", 1488, 1396, RED_T), ("East-Aegean", 1523, 1422, RED_T),
              ("East", 1703, 1387, MAROON_T), ("Turkey", 1703, 1406, MAROON_T), ("Iran", 1804, 1387, MAROON_T),
              ("Uzbekistan", 1870, 1412, MAROON_T), ("mouflon", 1917, 1387, "#000000"),
              ("Finnish,", 140, 1438, GRAY_T), ("Dutch-", 226, 1441, GREEN_T), ("Central European", 363, 1441, BLUE_T),
              ("South-Alpine", 561, 1441, GOLD_T), ("Central-South Italian", 812, 1441, ORANGE_T),
              ("Spanish", 1103, 1441, BROWN_T), ("Basque", 1261, 1439, OLIVE_T), ("Balkan", 1399, 1440, PURPLE_T),
              ("Greek,", 1545, 1444, RED_T), ("Southwest Asian-", 1726, 1443, MAROON_T),
              ("Norwegian", 137, 1469, GRAY_T), ("German", 226, 1469, GREEN_T), ("East-Aegean", 1545, 1470, RED_T),
              ("Egyptian", 1726, 1470, MAROON_T), ("NW Adriatic", 1367, 1477, PURPLE_T), ("Italian", 1202, 1489, BROWN_T),
              ("Swiss", 364, 1518, BLUE_T), ("Valais", 440, 1518, BLUE_T), ("South-Alpine", 550, 1518, GOLD_T),
              ("Central", 697, 1518, ORANGE_T), ("South", 795, 1518, ORANGE_T), ("Sicilian", 901, 1518, ORANGE_T),
              ("Sardinian", 979, 1518, ORANGE_T), ("Spanish", 1081, 1518, BROWN_T), ("Merino", 1202, 1516, BROWN_T),
              ("Balkan", 1325, 1516, PURPLE_T), ("Balkan", 1436, 1518, PURPLE_T), ("Asian fat-tailed", 1768, 1517, MAROON_T)]
for text, x, y, colour in geo_labels:
    page.text(x, y, text, ha="center", va="center", fontsize=14.5, fontweight="bold", color=colour)
for text, x, y in [("Cyprus", 1594, 1408), ("Israel", 1624, 1402), ("Egypt", 1653, 1402)]:
    page.text(x, y, text, rotation=270, ha="center", va="center", fontsize=14.5, fontweight="bold", color=MAROON_T)

# country and cluster brackets under the last panel
for x, y2 in [(114.5, 1397), (194, 1397), (310, 1397), (496, 1397), (507.5, 1397), (971, 1397), (1290, 1397),
              (1507, 1388), (1522, 1410), (1578.5, 1432), (1609.5, 1417), (1639, 1417), (1666, 1417),
              (1742, 1416), (1863.5, 1397), (1870, 1398)]:
    page.plot([x, x], [1373, y2], color=LINE, linewidth=1)
page.hlines(1455, 84, 1870, color=LINE, linewidth=1)
for x in [84, 194, 257, 468.5, 652.5, 971, 1231, 1290, 1507, 1578.5, 1870]:
    page.plot([x, x], [1448, 1463], color=LINE, linewidth=1)
for a, b, y, lw in [(310, 623, 1503, 1.0), (652.5, 971, 1503, 2.2), (971, 1290, 1503, 1.0), (1290, 1337, 1503, 1.0),
                    (1389, 1832.6, 1503, 1.0), (1863.6, 1870, 1503, 1.0), (1337, 1389, 1492, 1.0)]:
    page.hlines(y, a, b, color=LINE, linewidth=lw)
for x in [310, 416, 468.5, 623, 652.5, 742, 850, 941, 971, 973, 1170.6, 1231, 1290, 1507, 1522, 1578.5, 1668, 1870]:
    page.plot([x, x], [1495, 1510], color=LINE, linewidth=1)
for x in [1337, 1389]:
    page.plot([x, x], [1485, 1499], color=LINE, linewidth=1)

fig.savefig("out.png", dpi=100, facecolor="white")
